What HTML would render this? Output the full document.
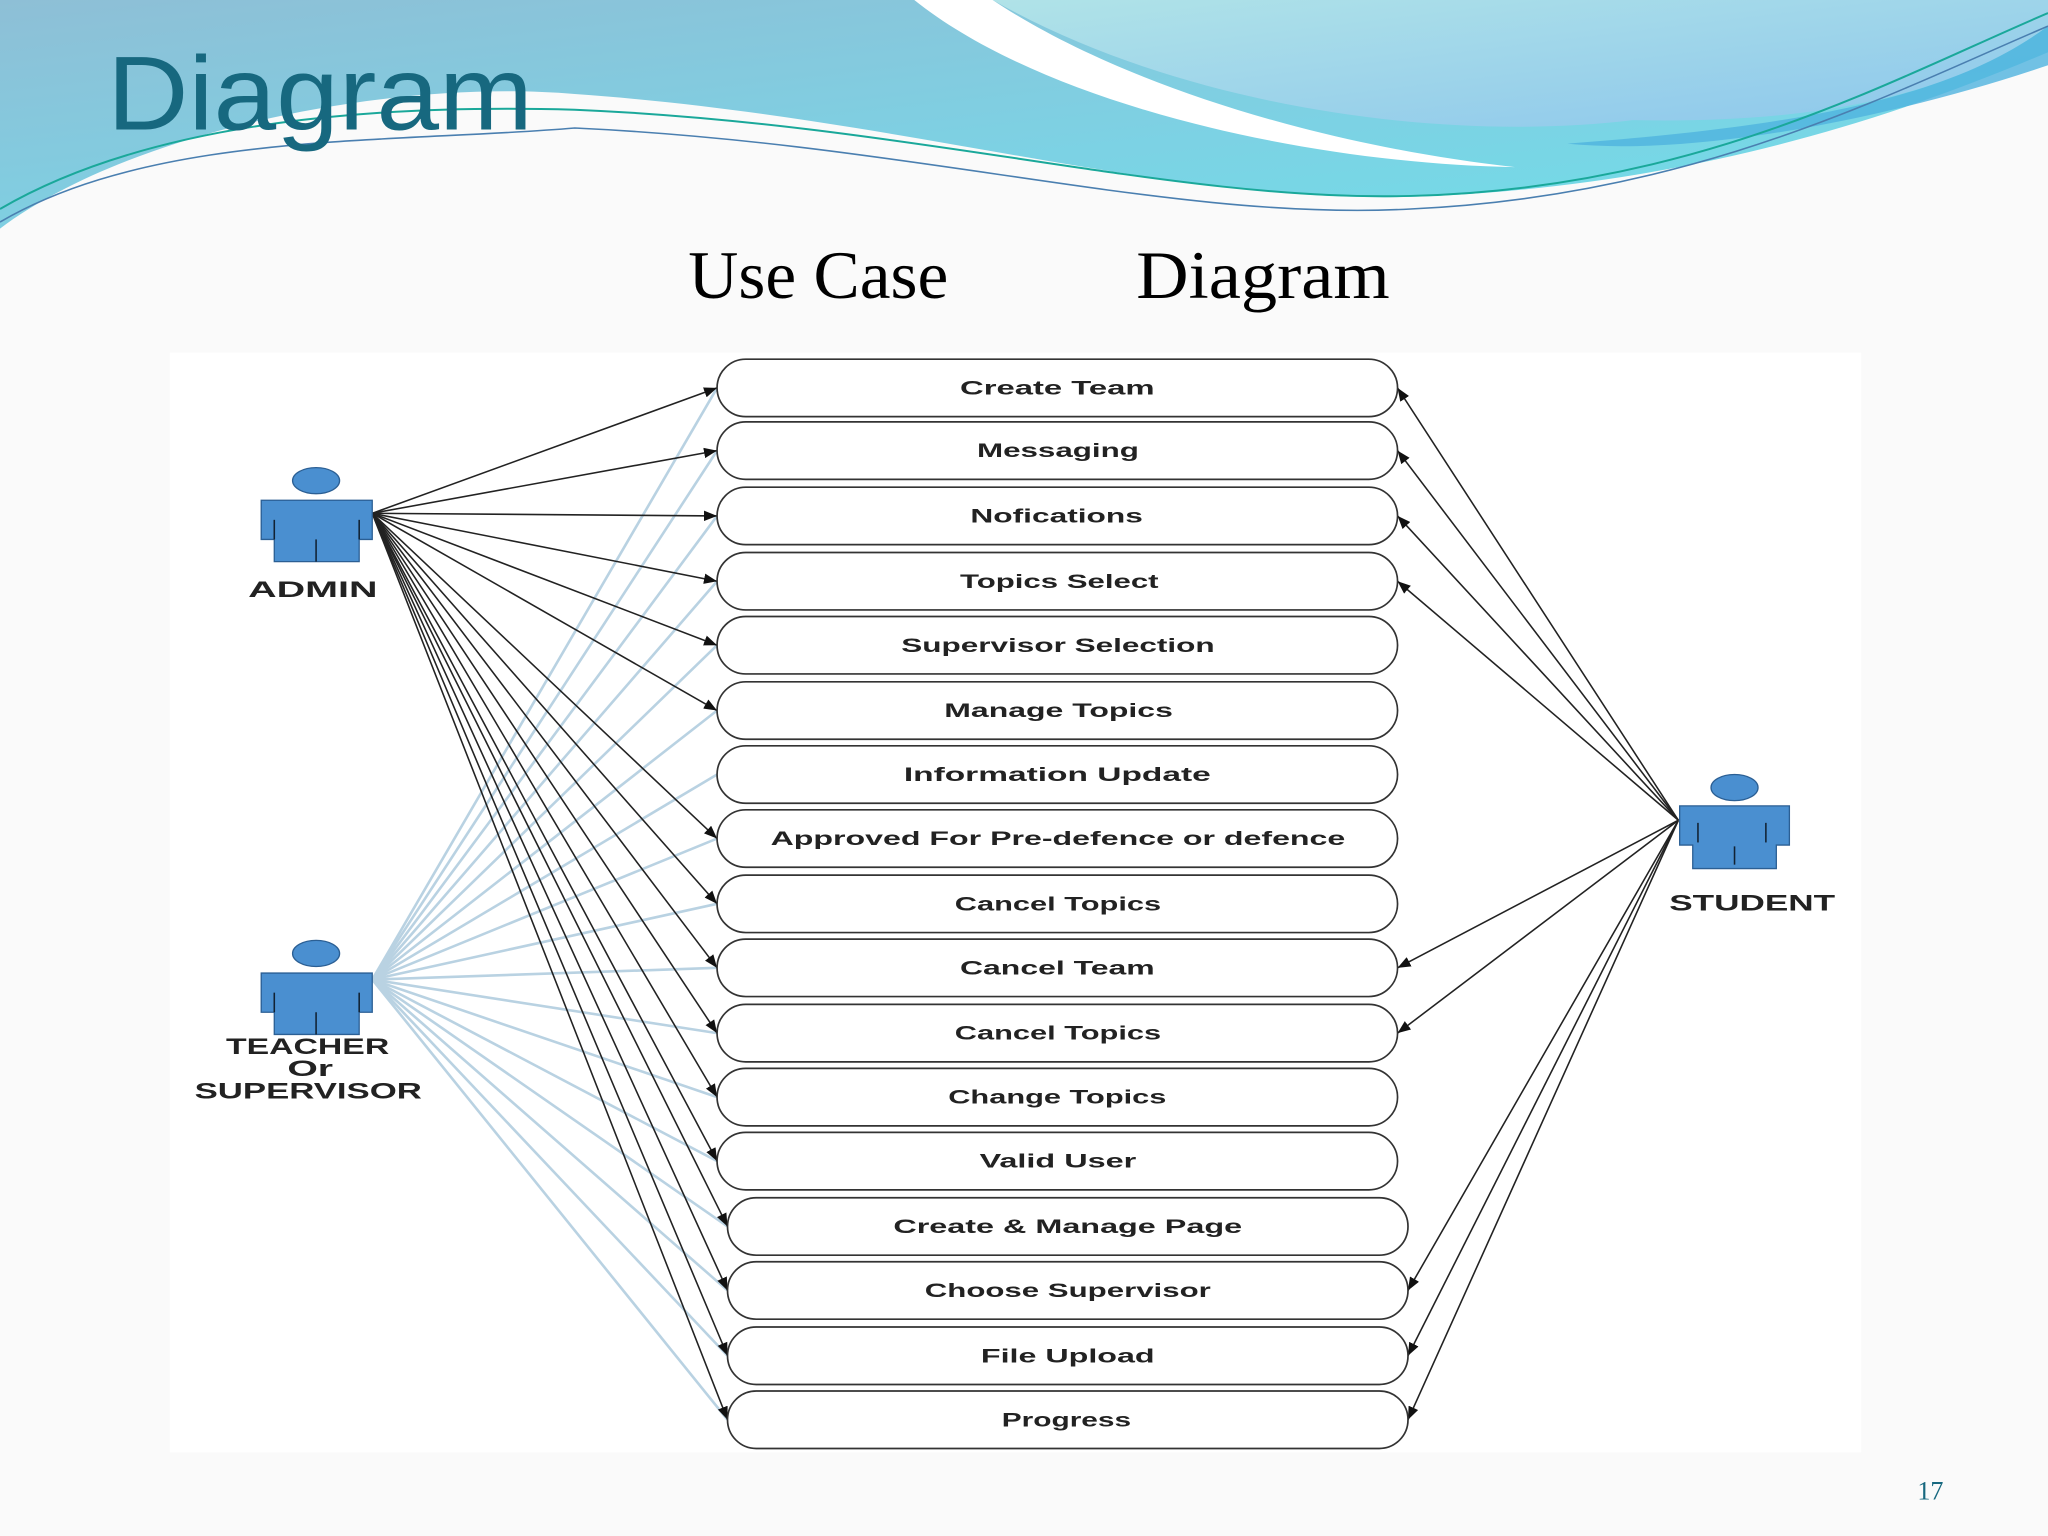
<!DOCTYPE html>
<html><head><meta charset="utf-8"><style>html,body{margin:0;padding:0;background:#fff}svg{display:block}</style></head>
<body>
<svg width="2048" height="1536" viewBox="0 0 1568 1176" xmlns="http://www.w3.org/2000/svg">
<defs>
<linearGradient id="bg1" x1="0" y1="0" x2="1" y2="1"><stop offset="0" stop-color="#8ebfd6"/><stop offset="0.6" stop-color="#7cd2e4"/><stop offset="1" stop-color="#6fdfe8"/></linearGradient>
<linearGradient id="bg2" x1="0" y1="0" x2="1" y2="1"><stop offset="0" stop-color="#b0e3e8"/><stop offset="1" stop-color="#8cc6ec"/></linearGradient>
<marker id="ah" markerWidth="10" markerHeight="8" refX="10" refY="4" orient="auto" markerUnits="userSpaceOnUse"><path d="M0,0 L10,4 L0,8 Z" fill="#111"/></marker>
</defs>
<rect width="1568" height="1176" fill="#fafafa"/>
<path d="M0,0 H1568 V40 C1450,90 1300,140 1100,150 C900,160 700,90 440,72 C300,60 100,100 0,175 Z" fill="url(#bg1)"/>
<path d="M760,0 H1568 V20 C1500,70 1400,95 1250,92 C1100,110 900,80 760,0 Z" fill="url(#bg2)"/>
<path d="M1568,20 C1500,70 1400,95 1200,110 C1300,120 1450,90 1568,50 Z" fill="#4fb3de" opacity="0.8"/>
<path d="M700,0 C800,80 1000,125 1160,128 C1000,110 850,60 760,0 Z" fill="#fff"/>
<path d="M0,160 C120,90 300,80 440,84 C700,95 900,155 1080,150 C1300,145 1450,60 1568,10" fill="none" stroke="#1aa89a" stroke-width="1.5"/>
<path d="M0,170 C120,100 300,110 440,98 C700,110 900,170 1080,160 C1300,150 1450,70 1568,20" fill="none" stroke="#4a7fb0" stroke-width="1.2"/>
<text x="82" y="99" font-family="Liberation Sans, sans-serif" font-size="80" fill="#17687f" textLength="326" lengthAdjust="spacingAndGlyphs">Diagram</text>
<text x="527" y="228" font-family="Liberation Serif, serif" font-size="52" fill="#000" textLength="199" lengthAdjust="spacingAndGlyphs">Use Case</text>
<text x="870" y="228" font-family="Liberation Serif, serif" font-size="52" fill="#000" textLength="194" lengthAdjust="spacingAndGlyphs">Diagram</text>
<rect x="130" y="270" width="1295" height="842" fill="#fff"/>
<text x="1468" y="1148" font-family="Liberation Serif, serif" font-size="20" fill="#17687f">17</text>
<g stroke="#b9d2e2" stroke-width="2">
<line x1="285" y1="750" x2="549" y2="297"/><line x1="285" y1="750" x2="549" y2="345"/><line x1="285" y1="750" x2="549" y2="395"/><line x1="285" y1="750" x2="549" y2="445"/><line x1="285" y1="750" x2="549" y2="494"/><line x1="285" y1="750" x2="549" y2="544"/><line x1="285" y1="750" x2="549" y2="593"/><line x1="285" y1="750" x2="549" y2="642"/><line x1="285" y1="750" x2="549" y2="692"/><line x1="285" y1="750" x2="549" y2="741"/><line x1="285" y1="750" x2="549" y2="791"/><line x1="285" y1="750" x2="549" y2="840"/><line x1="285" y1="750" x2="549" y2="889"/><line x1="285" y1="750" x2="557" y2="939"/><line x1="285" y1="750" x2="557" y2="988"/><line x1="285" y1="750" x2="557" y2="1038"/><line x1="285" y1="750" x2="557" y2="1087"/>
</g>
<g stroke="#222" stroke-width="1.2" marker-end="url(#ah)">
<line x1="285" y1="393" x2="549" y2="297"/><line x1="285" y1="393" x2="549" y2="345"/><line x1="285" y1="393" x2="549" y2="395"/><line x1="285" y1="393" x2="549" y2="445"/><line x1="285" y1="393" x2="549" y2="494"/><line x1="285" y1="393" x2="549" y2="544"/><line x1="285" y1="393" x2="549" y2="642"/><line x1="285" y1="393" x2="549" y2="692"/><line x1="285" y1="393" x2="549" y2="741"/><line x1="285" y1="393" x2="549" y2="791"/><line x1="285" y1="393" x2="549" y2="840"/><line x1="285" y1="393" x2="549" y2="889"/><line x1="285" y1="393" x2="557" y2="939"/><line x1="285" y1="393" x2="557" y2="988"/><line x1="285" y1="393" x2="557" y2="1038"/><line x1="285" y1="393" x2="557" y2="1087"/>
<line x1="1285" y1="628" x2="1070" y2="297"/><line x1="1285" y1="628" x2="1070" y2="345"/><line x1="1285" y1="628" x2="1070" y2="395"/><line x1="1285" y1="628" x2="1070" y2="445"/><line x1="1285" y1="628" x2="1070" y2="741"/><line x1="1285" y1="628" x2="1070" y2="791"/><line x1="1285" y1="628" x2="1078" y2="988"/><line x1="1285" y1="628" x2="1078" y2="1038"/><line x1="1285" y1="628" x2="1078" y2="1087"/>
</g>
<g fill="#fff" stroke="#333" stroke-width="1.3">
<rect x="549" y="275" width="521" height="44" rx="22"/><rect x="549" y="323" width="521" height="44" rx="22"/><rect x="549" y="373" width="521" height="44" rx="22"/><rect x="549" y="423" width="521" height="44" rx="22"/><rect x="549" y="472" width="521" height="44" rx="22"/><rect x="549" y="522" width="521" height="44" rx="22"/><rect x="549" y="571" width="521" height="44" rx="22"/><rect x="549" y="620" width="521" height="44" rx="22"/><rect x="549" y="670" width="521" height="44" rx="22"/><rect x="549" y="719" width="521" height="44" rx="22"/><rect x="549" y="769" width="521" height="44" rx="22"/><rect x="549" y="818" width="521" height="44" rx="22"/><rect x="549" y="867" width="521" height="44" rx="22"/><rect x="557" y="917" width="521" height="44" rx="22"/><rect x="557" y="966" width="521" height="44" rx="22"/><rect x="557" y="1016" width="521" height="44" rx="22"/><rect x="557" y="1065" width="521" height="44" rx="22"/>
</g>
<g font-family="Liberation Sans, sans-serif" font-size="15" font-weight="bold" fill="#222">
<text x="735" y="302" textLength="149" lengthAdjust="spacingAndGlyphs">Create Team</text><text x="748" y="350" textLength="124" lengthAdjust="spacingAndGlyphs">Messaging</text><text x="743" y="400" textLength="132" lengthAdjust="spacingAndGlyphs">Nofications</text><text x="735" y="450" textLength="152" lengthAdjust="spacingAndGlyphs">Topics Select</text><text x="690" y="499" textLength="240" lengthAdjust="spacingAndGlyphs">Supervisor Selection</text><text x="723" y="549" textLength="175" lengthAdjust="spacingAndGlyphs">Manage Topics</text><text x="692" y="598" textLength="235" lengthAdjust="spacingAndGlyphs">Information Update</text><text x="590" y="647" textLength="440" lengthAdjust="spacingAndGlyphs">Approved For Pre-defence or defence</text><text x="731" y="697" textLength="158" lengthAdjust="spacingAndGlyphs">Cancel Topics</text><text x="735" y="746" textLength="149" lengthAdjust="spacingAndGlyphs">Cancel Team</text><text x="731" y="796" textLength="158" lengthAdjust="spacingAndGlyphs">Cancel Topics</text><text x="726" y="845" textLength="167" lengthAdjust="spacingAndGlyphs">Change Topics</text><text x="750" y="894" textLength="120" lengthAdjust="spacingAndGlyphs">Valid User</text><text x="684" y="944" textLength="267" lengthAdjust="spacingAndGlyphs">Create &amp; Manage Page</text><text x="708" y="993" textLength="219" lengthAdjust="spacingAndGlyphs">Choose Supervisor</text><text x="751" y="1043" textLength="133" lengthAdjust="spacingAndGlyphs">File Upload</text><text x="767" y="1092" textLength="99" lengthAdjust="spacingAndGlyphs">Progress</text>
</g>
<g fill="#4a8fd0" stroke="#2b5f94" stroke-width="1">
<ellipse cx="242" cy="368" rx="18" ry="10"/><path d="M200,383 H285 V413 H275 V430 H210 V413 H200 Z"/>
<ellipse cx="242" cy="730" rx="18" ry="10"/><path d="M200,745 H285 V775 H275 V792 H210 V775 H200 Z"/>
<ellipse cx="1328" cy="603" rx="18" ry="10"/><path d="M1286,617 H1370 V647 H1360 V665 H1296 V647 H1286 Z"/>
</g>
<g stroke="#123" stroke-width="1.2"><line x1="210" y1="398" x2="210" y2="413"/><line x1="275" y1="398" x2="275" y2="413"/><line x1="242" y1="413" x2="242" y2="430"/><line x1="210" y1="760" x2="210" y2="775"/><line x1="275" y1="760" x2="275" y2="775"/><line x1="242" y1="775" x2="242" y2="792"/><line x1="1300" y1="630" x2="1300" y2="645"/><line x1="1352" y1="630" x2="1352" y2="645"/><line x1="1328" y1="648" x2="1328" y2="662"/></g>
<g font-family="Liberation Sans, sans-serif" font-size="17" font-weight="bold" fill="#222">
<text x="190" y="457" textLength="99" lengthAdjust="spacingAndGlyphs">ADMIN</text><text x="173" y="807" textLength="125" lengthAdjust="spacingAndGlyphs">TEACHER</text><text x="220" y="824" textLength="35" lengthAdjust="spacingAndGlyphs">Or</text><text x="149" y="841" textLength="174" lengthAdjust="spacingAndGlyphs">SUPERVISOR</text><text x="1278" y="697" textLength="127" lengthAdjust="spacingAndGlyphs">STUDENT</text>
</g>
</svg>
</body></html>
